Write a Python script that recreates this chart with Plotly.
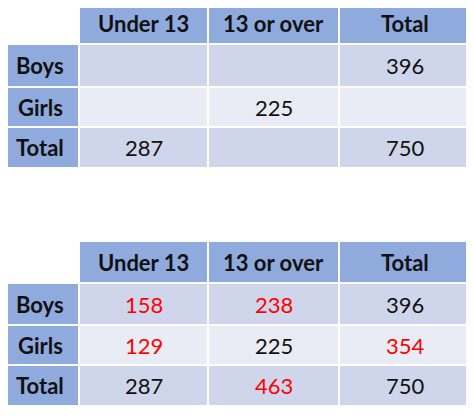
import plotly.graph_objects as go

# Data
col_labels = ['Under 13', '13 or over', 'Total']
row_labels = ['Boys', 'Girls', 'Total']
top_values = [['', '', '396'],
              ['', '225', ''],
              ['287', '', '750']]
bottom_values = [['158', '238', '396'],
                 ['129', '225', '354'],
                 ['287', '463', '750']]
bottom_filled = [[True, True, False],
                 [True, False, True],
                 [False, True, False]]

# Layout
col_edges = [(2, 78), (80, 207), (209, 338), (340, 470)]
top_rows = [(4, 43), (45, 86), (88, 126), (128, 167)]
bottom_rows = [(242, 282), (284, 324), (326, 364), (366, 405)]
header_col = '#8faadc'
row_cols = ['#cfd5ea', '#e9ebf5', '#cfd5ea']
font = 'Lato, Liberation Sans, sans-serif'

fig = go.Figure()
shapes, annos = [], []


def cell(x, y, fill, text, bold=False, color='#111111'):
    shapes.append(dict(type='rect', x0=x[0], x1=x[1], y0=y[0], y1=y[1],
                       fillcolor=fill, line=dict(width=0), layer='below'))
    if text:
        annos.append(dict(x=(x[0] + x[1]) / 2, y=(y[0] + y[1]) / 2,
                          text='<b>%s</b>' % text if bold else text,
                          showarrow=False, font=dict(size=22, color=color, family=font)))


def table(rows, values, red=None):
    for j, lab in enumerate(col_labels):
        cell(col_edges[j + 1], rows[0], header_col, lab, bold=True)
    for i, lab in enumerate(row_labels):
        cell(col_edges[0], rows[i + 1], header_col, lab, bold=True)
        for j in range(3):
            c = '#ff0000' if red and red[i][j] else '#111111'
            cell(col_edges[j + 1], rows[i + 1], row_cols[i], values[i][j], color=c)


table(top_rows, top_values)
table(bottom_rows, bottom_values, bottom_filled)

# page body has an 8px margin, so shift the axis ranges to compensate
fig.update_layout(width=474, height=416, margin=dict(l=0, r=0, t=0, b=0),
                  plot_bgcolor='white', paper_bgcolor='white',
                  shapes=shapes, annotations=annos, showlegend=False)
fig.update_xaxes(range=[8, 482], visible=False)
fig.update_yaxes(range=[424, 8], visible=False)
fig.write_html('out.html')
